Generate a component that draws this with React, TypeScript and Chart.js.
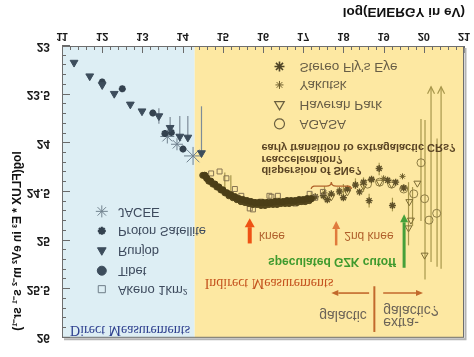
import React, { useEffect, useRef } from 'react';
import { Chart, registerables } from 'chart.js';
import * as helpers from 'chart.js/helpers';

Chart.register(...registerables);

const W = 474;
const H = 357;

// axes
const energyTicks = [11, 12, 13, 14, 15, 16, 17, 18, 19, 20, 21];
const fluxTicks = [23, 23.5, 24, 24.5, 25, 25.5, 26];
const directEnd = 14.3;

// direct measurements
const runjobE = [11.3, 11.69, 12.0, 12.3, 12.7, 12.99, 13.41, 13.69, 13.93, 14.13, 14.47];
const runjobV = [23.17, 23.31, 23.4, 23.49, 23.6, 23.67, 23.72, 23.84, 23.93, 23.94, 24.1];
const runjobErrE = [13.41, 13.69, 13.93, 14.13, 14.47];
const runjobErrLo = [23.64, 23.73, 23.72, 23.72, 23.62];
const runjobErrHi = [23.8, 23.84, 23.93, 23.94, 24.1];

const protonE = [12.0, 12.5, 13.26, 13.56, 13.72, 14.01];
const protonV = [23.37, 23.44, 23.69, 23.9, 23.89, 24.06];

const jaceeE = [13.62, 13.86, 14.26];
const jaceeV = [23.93, 24.01, 24.13];

// indirect measurements
const tibetE = [14.55, 14.6, 14.7, 14.8, 14.9, 15.0, 15.1, 15.2, 15.3, 15.4, 15.5, 15.6, 15.7, 15.8, 15.9, 16.0, 16.1, 16.2, 16.3, 16.4, 16.5, 16.6, 16.7, 16.8, 16.9, 17.0, 17.1, 17.2];
const tibetV = [24.33, 24.36, 24.39, 24.42, 24.45, 24.48, 24.51, 24.53, 24.55, 24.57, 24.58, 24.59, 24.6, 24.61, 24.61, 24.61, 24.61, 24.61, 24.6, 24.6, 24.6, 24.59, 24.59, 24.59, 24.58, 24.58, 24.57, 24.57];
const tibet2E = [14.5, 14.65, 14.75, 14.85, 14.95, 15.05, 15.15, 15.25, 15.35, 15.45, 15.55, 15.65, 15.75, 15.85, 15.95, 16.05, 16.15, 16.25, 16.35, 16.45, 16.55, 16.65, 16.75, 16.85, 16.95, 17.05, 17.15];
const tibet2V = [24.33, 24.39, 24.42, 24.45, 24.48, 24.51, 24.54, 24.56, 24.58, 24.6, 24.61, 24.62, 24.63, 24.63, 24.64, 24.64, 24.63, 24.63, 24.63, 24.62, 24.62, 24.62, 24.61, 24.61, 24.6, 24.6, 24.59];

const akenoE = [14.71, 14.92, 15.09, 15.3, 15.46, 15.67, 15.75, 15.95, 16.16, 16.21, 16.37, 16.55, 16.66, 16.8, 16.95, 17.05, 17.16, 17.3, 17.49];
const akenoV = [24.31, 24.29, 24.36, 24.47, 24.54, 24.67, 24.68, 24.6, 24.54, 24.55, 24.54, 24.61, 24.6, 24.62, 24.6, 24.59, 24.52, 24.56, 24.5];

const flyE = [17.3, 17.5, 17.7, 17.9, 18.1, 18.3, 18.5, 18.7, 18.89, 19.1, 19.3, 19.5, 17.6, 18.0, 18.4, 18.64, 19.22];
const flyV = [24.55, 24.54, 24.52, 24.5, 24.47, 24.43, 24.4, 24.37, 24.26, 24.38, 24.4, 24.46, 24.58, 24.56, 24.5, 24.59, 24.64];

const yakutskE = [17.53, 17.9, 18.3, 18.7, 19.0, 19.47];
const yakutskV = [24.51, 24.48, 24.42, 24.38, 24.36, 24.34];

const haverahE = [17.7, 18.1, 18.5, 18.9, 19.2, 19.64, 19.68, 19.62, 19.84, 20.02];
const haverahV = [24.55, 24.5, 24.44, 24.4, 24.42, 24.6, 24.79, 24.87, 24.41, 25.15];

const agasaE = [18.6, 18.9, 19.2, 19.5, 19.75, 19.93, 20.02, 20.13, 20.32];
const agasaV = [24.42, 24.4, 24.42, 24.47, 24.52, 24.2, 24.57, 24.79, 24.72];

const errE = [15.05, 15.2, 17.2, 17.53, 18.0, 18.3, 18.5, 18.64, 18.89, 19.22, 19.62, 19.72, 19.93, 20.03, 20.33];
const errLo = [24.3, 24.33, 24.5, 24.44, 24.42, 24.36, 24.35, 24.52, 24.2, 24.56, 24.4, 24.45, 23.75, 23.76, 23.95];
const errHi = [24.52, 24.55, 24.6, 24.58, 24.55, 24.47, 24.5, 24.66, 24.33, 24.7, 25.05, 24.85, 24.8, 25.4, 25.27];

const limitE = [20.18, 20.43];
const limitLo = [23.42, 23.42];
const limitHi = [25.22, 25.29];

// legends
const leftLegendLabels = ['JACEE', 'Proton Satellite', 'Runjob', 'Tibet', 'Akeno 1km²'];
const leftLegendV = [24.7, 24.9, 25.1, 25.31, 25.5];
const rightLegendLabels = ['Stereo Fly\'s Eye', 'Yakutsk', 'Haverah Park', 'AGASA'];
const rightLegendV = [23.21, 23.4, 23.6, 23.8];
const questionLabels = ['early transition to extragalactic CRs?', 'reacceleration?', 'dispersion of SNe?'];
const questionV = [24.04, 24.16, 24.28];

const SANS = '"Liberation Sans", Arial, sans-serif';
const SERIF = '"Liberation Serif", "Times New Roman", serif';
const BLUE = '#ddeef4';
const YELLOW = '#fde8a2';
const ERR = '#a8974c';

const pts = (xs: number[], ys: number[]) => xs.map((x, i) => ({ x, y: ys[i] }));

function arrow(ctx: CanvasRenderingContext2D, x1: number, y1: number, x2: number, y2: number, lw: number, head: number, hw: number, color: string) {
  const ang = Math.atan2(y2 - y1, x2 - x1);
  const bx = x2 - Math.cos(ang) * head;
  const by = y2 - Math.sin(ang) * head;
  ctx.save();
  ctx.strokeStyle = color;
  ctx.fillStyle = color;
  ctx.lineWidth = lw;
  ctx.beginPath();
  ctx.moveTo(x1, y1);
  ctx.lineTo(bx, by);
  ctx.stroke();
  ctx.beginPath();
  ctx.moveTo(x2, y2);
  ctx.lineTo(bx + Math.sin(ang) * hw, by - Math.cos(ang) * hw);
  ctx.lineTo(bx - Math.sin(ang) * hw, by + Math.cos(ang) * hw);
  ctx.closePath();
  ctx.fill();
  ctx.restore();
}

const decor = {
  id: 'decor',
  beforeDraw(chart: any) {
    const { ctx, chartArea: a, scales } = chart;
    const xd = scales.x.getPixelForValue(directEnd);
    ctx.save();
    ctx.fillStyle = '#ffffff';
    ctx.fillRect(0, 0, chart.width, chart.height);
    ctx.fillStyle = BLUE;
    ctx.fillRect(a.left, a.top, xd - a.left, a.bottom - a.top);
    ctx.fillStyle = YELLOW;
    ctx.fillRect(xd, a.top, a.right - xd, a.bottom - a.top);
    ctx.restore();
  },
  beforeDatasetsDraw(chart: any) {
    const { ctx, scales } = chart;
    const X = (e: number) => scales.x.getPixelForValue(e);
    const Y = (v: number) => scales.y.getPixelForValue(v);
    ctx.save();
    ctx.lineWidth = 1.2;
    ctx.strokeStyle = '#7d8c98';
    runjobErrE.forEach((e, i) => {
      ctx.beginPath();
      ctx.moveTo(X(e), Y(runjobErrLo[i]));
      ctx.lineTo(X(e), Y(runjobErrHi[i]));
      ctx.stroke();
    });
    ctx.strokeStyle = ERR;
    errE.forEach((e, i) => {
      ctx.beginPath();
      ctx.moveTo(X(e), Y(errLo[i]));
      ctx.lineTo(X(e), Y(errHi[i]));
      ctx.stroke();
    });
    limitE.forEach((e, i) => {
      const x = X(e);
      const yt = Y(limitLo[i]);
      ctx.beginPath();
      ctx.moveTo(x, yt);
      ctx.lineTo(x, Y(limitHi[i]));
      ctx.stroke();
      const d = Y(limitLo[i] + 0.07) - yt;
      ctx.beginPath();
      ctx.moveTo(x - 3.5, yt + d);
      ctx.lineTo(x, yt);
      ctx.lineTo(x + 3.5, yt + d);
      ctx.stroke();
    });
    ctx.restore();
  },
  afterDatasetsDraw(chart: any) {
    const { ctx, chartArea: a, scales } = chart;
    const X = (e: number) => scales.x.getPixelForValue(e);
    const Y = (v: number) => scales.y.getPixelForValue(v);
    ctx.save();

    // ticks
    ctx.strokeStyle = '#6a6a6a';
    ctx.lineWidth = 1;
    for (let i = 0; i <= 50; i++) {
      const x = Math.round(X(11 + i * 0.2)) + 0.5;
      const len = i % 5 === 0 ? 7 : 4;
      ctx.beginPath();
      ctx.moveTo(x, a.bottom);
      ctx.lineTo(x, a.bottom - len);
      ctx.stroke();
    }
    for (let i = 0; i <= 30; i++) {
      const y = Math.round(Y(23 + i * 0.1)) + 0.5;
      const len = i % 5 === 0 ? 8 : 4;
      ctx.beginPath();
      ctx.moveTo(a.left, y);
      ctx.lineTo(a.left + len, y);
      ctx.stroke();
    }

    // frame
    ctx.strokeStyle = '#b4b4b4';
    ctx.lineWidth = 2;
    ctx.beginPath();
    ctx.moveTo(a.left + 2, a.top - 1.5);
    ctx.lineTo(a.right + 1.5, a.top - 1.5);
    ctx.lineTo(a.right + 1.5, a.bottom - 2);
    ctx.stroke();
    ctx.strokeStyle = '#6e6e6e';
    ctx.lineWidth = 1;
    ctx.strokeRect(a.left + 0.5, a.top + 0.5, a.right - a.left - 1, a.bottom - a.top - 1);

    ctx.textBaseline = 'middle';
    ctx.textAlign = 'left';

    // left legend
    const leftStyles = [
      { pointStyle: 'star', radius: 6, borderWidth: 1, color: '#72838f', fill: 'rgba(0,0,0,0)' },
      { pointStyle: 'star', radius: 4, borderWidth: 2.2, color: '#34424f', fill: 'rgba(0,0,0,0)' },
      { pointStyle: 'triangle', radius: 5, borderWidth: 1, color: '#3d4d5c', fill: '#3d4d5c' },
      { pointStyle: 'circle', radius: 4.5, borderWidth: 1, color: '#3d4d5c', fill: '#3d4d5c' },
      { pointStyle: 'rect', radius: 5, borderWidth: 1, color: '#6f7d88', fill: 'rgba(0,0,0,0)' },
    ];
    leftLegendLabels.forEach((lab, i) => {
      const s = leftStyles[i];
      ctx.strokeStyle = s.color;
      ctx.fillStyle = s.fill;
      ctx.lineWidth = s.borderWidth;
      helpers.drawPoint(ctx, { pointStyle: s.pointStyle, radius: s.radius, rotation: 0, borderWidth: s.borderWidth }, X(11.99), Y(leftLegendV[i]));
      ctx.fillStyle = '#3e4b5e';
      ctx.font = `13px ${SANS}`;
      ctx.fillText(lab, X(12.39), Y(leftLegendV[i]));
    });

    // right legend
    const rightStyles = [
      { pointStyle: 'star', radius: 5, borderWidth: 1.6, color: '#4f4426', fill: 'rgba(0,0,0,0)' },
      { pointStyle: 'star', radius: 4, borderWidth: 1, color: '#6e5e2c', fill: 'rgba(0,0,0,0)' },
      { pointStyle: 'triangle', radius: 5.5, borderWidth: 1.2, color: '#6b6040', fill: 'rgba(0,0,0,0)' },
      { pointStyle: 'circle', radius: 5, borderWidth: 1.2, color: '#6b6040', fill: 'rgba(0,0,0,0)' },
    ];
    rightLegendLabels.forEach((lab, i) => {
      const s = rightStyles[i];
      ctx.strokeStyle = s.color;
      ctx.fillStyle = s.fill;
      ctx.lineWidth = s.borderWidth;
      helpers.drawPoint(ctx, { pointStyle: s.pointStyle, radius: s.radius, rotation: 0, borderWidth: s.borderWidth }, X(16.41), Y(rightLegendV[i]));
      ctx.fillStyle = '#675d46';
      ctx.font = `13.5px ${SANS}`;
      ctx.fillText(lab, X(16.91), Y(rightLegendV[i]));
    });

    // questions
    ctx.fillStyle = '#5a4424';
    ctx.font = `bold 11px ${SANS}`;
    questionLabels.forEach((lab, i) => ctx.fillText(lab, X(15.96), Y(questionV[i])));

    // brace
    {
      const x1 = X(17.2), x2 = X(18.2), by = Y(24.44), mid = (x1 + x2) / 2;
      const d = Math.sign(Y(24.28) - by);
      ctx.strokeStyle = '#b2642c';
      ctx.lineWidth = 1.3;
      ctx.beginPath();
      ctx.moveTo(x1, by - d * 3);
      ctx.quadraticCurveTo(x1, by, x1 + 5, by);
      ctx.lineTo(mid - 5, by);
      ctx.quadraticCurveTo(mid, by, mid, by + d * 4);
      ctx.quadraticCurveTo(mid, by, mid + 5, by);
      ctx.lineTo(x2 - 5, by);
      ctx.quadraticCurveTo(x2, by, x2, by - d * 3);
      ctx.stroke();
    }

    // knee arrows
    arrow(ctx, X(15.67), Y(25.03), X(15.67), Y(24.77), 4, 9, 5, '#ee5214');
    arrow(ctx, X(17.82), Y(25.05), X(17.82), Y(24.8), 2.5, 8, 4, '#e07a3c');
    arrow(ctx, X(19.51), Y(25.28), X(19.51), Y(24.73), 3, 8, 4, '#46a03a');
    ctx.font = `12px ${SANS}`;
    ctx.fillStyle = '#b0602c';
    ctx.fillText('knee', X(15.9), Y(24.95));
    ctx.fillText('2nd knee', X(18.02), Y(24.95));
    ctx.font = `bold 12px ${SANS}`;
    ctx.fillStyle = '#3f9a2e';
    ctx.textAlign = 'right';
    ctx.fillText('speculated GZK cutoff', X(19.31), Y(25.21));
    ctx.textAlign = 'left';

    // region labels
    ctx.font = `14px ${SERIF}`;
    ctx.fillStyle = '#2d3f8e';
    ctx.fillText('Direct Measurements', X(11.2), Y(25.92));
    ctx.fillStyle = '#c4521e';
    ctx.fillText('Indirect Measurements', X(14.55), Y(25.43));

    // galactic / extra-galactic
    ctx.font = `14px ${SANS}`;
    ctx.fillStyle = '#6c6458';
    ctx.fillText('galactic', X(17.4), Y(25.76));
    ctx.fillText('extra-', X(18.99), Y(25.84));
    ctx.fillText('galactic?', X(18.99), Y(25.71));
    ctx.strokeStyle = '#c2692c';
    ctx.lineWidth = 2;
    ctx.beginPath();
    ctx.moveTo(X(18.77), Y(25.47));
    ctx.lineTo(X(18.77), Y(25.94));
    ctx.stroke();
    arrow(ctx, X(18.64), Y(25.54), X(17.7), Y(25.54), 1.6, 7, 3, '#c2692c');
    arrow(ctx, X(18.99), Y(25.54), X(19.98), Y(25.54), 1.6, 7, 3, '#c2692c');

    // axis titles
    ctx.fillStyle = '#111';
    ctx.font = `bold 13.5px ${SANS}`;
    ctx.textAlign = 'right';
    ctx.fillText('log(ENERGY in eV)', a.right + 1, chart.height - 12);
    ctx.save();
    ctx.translate(18, 116);
    ctx.rotate(-Math.PI / 2);
    ctx.textAlign = 'center';
    ctx.font = `bold 12px ${SANS}`;
    ctx.fillText('log(FLUX * E³ in eV² m⁻² s⁻¹ sr⁻¹)', 0, 0);
    ctx.restore();

    ctx.restore();
  },
};

export default function App() {
  const ref = useRef<HTMLCanvasElement>(null);
  useEffect(() => {
    if (!ref.current) return;
    const tickFont = { family: SANS, weight: 'bold' as const };
    const chart = new Chart(ref.current, {
      type: 'scatter',
      data: {
        datasets: [
          { label: 'Runjob', data: pts(runjobE, runjobV), pointStyle: 'triangle', pointRadius: 4.5, backgroundColor: '#3d4d5c', borderColor: '#3d4d5c', borderWidth: 1 },
          { label: 'Proton Satellite', data: pts(protonE, protonV), pointStyle: 'star', pointRadius: 3.5, borderColor: '#34424f', borderWidth: 2.2 },
          { label: 'JACEE', data: pts(jaceeE, jaceeV), pointStyle: 'star', pointRadius: [7, 6, 9], borderColor: '#6f808e', borderWidth: 1 },
          { label: 'Tibet', data: pts(tibetE, tibetV), pointStyle: 'circle', pointRadius: 3.2, backgroundColor: '#4b3e17', borderColor: '#4b3e17', borderWidth: 1 },
          { label: 'Tibet b', data: pts(tibet2E, tibet2V), pointStyle: 'circle', pointRadius: 3, backgroundColor: '#54461c', borderColor: '#54461c', borderWidth: 1 },
          { label: 'Akeno', data: pts(akenoE, akenoV), pointStyle: 'rect', pointRadius: 3.5, backgroundColor: 'rgba(0,0,0,0)', borderColor: '#857352', borderWidth: 1 },
          { label: "Fly's Eye", data: pts(flyE, flyV), pointStyle: 'star', pointRadius: 3.5, borderColor: '#5e5028', borderWidth: 1.4 },
          { label: 'Yakutsk', data: pts(yakutskE, yakutskV), pointStyle: 'star', pointRadius: 3, borderColor: '#6e5e2c', borderWidth: 1 },
          { label: 'Haverah Park', data: pts(haverahE, haverahV), pointStyle: 'triangle', pointRadius: 4, backgroundColor: 'rgba(0,0,0,0)', borderColor: '#7d6c34', borderWidth: 1 },
          { label: 'AGASA', data: pts(agasaE, agasaV), pointStyle: 'circle', pointRadius: 4, backgroundColor: 'rgba(0,0,0,0)', borderColor: '#8d7c44', borderWidth: 1 },
        ],
      },
      options: {
        responsive: false,
        animation: false,
        devicePixelRatio: 1,
        layout: { padding: { left: 0, right: 9, top: 8, bottom: 0 } },
        plugins: { legend: { display: false }, tooltip: { enabled: false } },
        scales: {
          x: {
            type: 'linear',
            min: 11,
            max: 21,
            position: 'bottom',
            afterBuildTicks: (s: any) => { s.ticks = energyTicks.map((v) => ({ value: v })); },
            afterFit: (s: any) => { s.height = 46; },
            grid: { display: false, drawTicks: false },
            border: { display: false },
            ticks: { padding: 3, autoSkip: false, maxRotation: 0, color: '#1a1a1a', font: { ...tickFont, size: 11 }, callback: (v: any) => String(v) },
          },
          y: {
            type: 'linear',
            min: 23,
            max: 26,
            afterBuildTicks: (s: any) => { s.ticks = fluxTicks.map((v) => ({ value: v })); },
            afterFit: (s: any) => { s.width = 62; },
            grid: { display: false, drawTicks: false },
            border: { display: false },
            ticks: { padding: 12, autoSkip: false, color: '#1a1a1a', font: { ...tickFont, size: 12 }, callback: (v: any) => String(v) },
          },
        },
      },
      plugins: [decor],
    } as any);
    return () => chart.destroy();
  }, []);

  return (
    <div style={{ position: 'fixed', left: 0, top: 0, width: W, height: H, background: '#fff' }}>
      <canvas ref={ref} width={W} height={H} style={{ display: 'block', width: W, height: H, transform: 'scaleY(-1)' }} />
    </div>
  );
}
